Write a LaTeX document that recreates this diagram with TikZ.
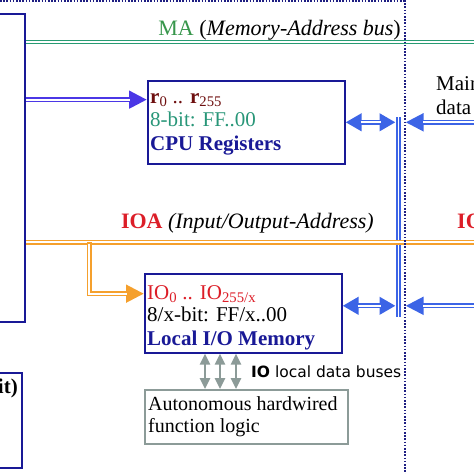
\documentclass[tikz,border=0pt]{standalone}
\usepackage{fontspec}
\setmainfont{Liberation Serif}
\newfontfamily\sansbus{DejaVu Sans}
\usetikzlibrary{arrows.meta}

\definecolor{navybox}{RGB}{25,25,150}
\definecolor{dotnavy}{RGB}{30,30,130}
\definecolor{magreen}{RGB}{40,155,115}
\definecolor{matext}{RGB}{55,150,75}
\definecolor{tealtext}{RGB}{40,150,120}
\definecolor{violetbus}{RGB}{75,55,230}
\definecolor{bluebus}{RGB}{60,100,230}
\definecolor{orangebus}{RGB}{245,160,45}
\definecolor{redtext}{RGB}{220,30,40}
\definecolor{darkred}{RGB}{110,15,15}
\definecolor{graylogic}{RGB}{140,155,152}

\begin{document}
\begin{tikzpicture}[x=1pt, y=-1pt,
    blkbox/.style={draw=navybox, line width=1.6pt, inner sep=0pt},
    logicbox/.style={draw=graylogic, line width=1.6pt, inner sep=0pt},
    txt/.style={font=\fontsize{21}{24}\selectfont, inner sep=0pt, anchor=base west},
    bus/.style 2 args={line width=5pt, postaction={draw=white, line width=1.8pt, -, shorten <=#1, shorten >=#2}},
    bigtip/.style={-{Triangle[length=18pt,width=17pt]}},
    twotip/.style={{Triangle[length=16pt,width=17pt]}-{Triangle[length=16pt,width=17pt]}},
    garrow/.style={graylogic, line width=2.6pt, {Triangle[length=11pt,width=10pt]}-{Triangle[length=11pt,width=10pt]}},
    dotline/.style={dotnavy, line width=1.6pt, dash pattern=on 1.6pt off 1.6pt}]

  \path[use as bounding box, clip] (0,0) rectangle (474,474);

  % Boxes on the left (cut by the frame)
  \node[blkbox, minimum width=50pt, minimum height=308pt] (core) at (0,168) {};
  \node[blkbox, minimum width=50pt, minimum height=95pt] (alu) at (-3,420.5) {};
  \node[txt, font=\fontsize{21}{24}\selectfont\bfseries, anchor=base east] (aluTxt) at (18,393) {it)};

  % CPU registers
  \node[blkbox, anchor=north west, minimum width=197pt, minimum height=83pt] (cpu) at (147,80) {};
  \node[txt, darkred] (regIdx) at (150,103) {{\bfseries r}\textsubscript{0} .. {\bfseries r}\textsubscript{255}};
  \node[txt, tealtext] (regBits) at (150,126) {8-bit: FF..00};
  \node[txt, navybox, font=\fontsize{21}{24}\selectfont\bfseries] (regName) at (150,150) {CPU Registers};

  % Local I/O memory
  \node[blkbox, anchor=north west, minimum width=197pt, minimum height=79pt] (io) at (144,273) {};
  \node[txt, redtext] (ioIdx) at (147,299) {IO\textsubscript{0} .. IO\textsubscript{255/x}};
  \node[txt] (ioBits) at (147,321) {8/x-bit: FF/x..00};
  \node[txt, navybox, font=\fontsize{21}{24}\selectfont\bfseries] (ioName) at (147,345) {Local I/O Memory};

  % Hardwired logic
  \node[logicbox, anchor=north west, minimum width=203pt, minimum height=54pt] (auto) at (144,389) {};
  \node[txt, font=\fontsize{20}{22}\selectfont] (autoT1) at (148,410) {Autonomous hardwired};
  \node[txt, font=\fontsize{20}{22}\selectfont] (autoT2) at (148,432) {function logic};

  % Labels
  \node[txt, font=\fontsize{22}{24}\selectfont, anchor=base east] (maLbl) at (401,35) {\textcolor{matext}{MA} (\textit{Memory-Address bus})};
  \node[txt, font=\fontsize{22}{24}\selectfont, anchor=base east] (ioaLbl) at (374,228) {\textcolor{redtext}{\bfseries IOA} \textit{(Input/Output-Address)}};
  \node[txt, redtext, font=\fontsize{22}{24}\selectfont\bfseries] (ioaLbl2) at (457,228) {IO};
  \node[txt, anchor=north west, align=left] (mainLbl) at (436,76) {Main\\data};
  \node[txt, font=\sansbus\fontsize{15.5}{18}\selectfont] (locLbl) at (251,377) {\textbf{IO} local data buses};

  % Bus coordinates
  \coordinate (maTap) at (26,42);
  \coordinate (maEnd) at (480,42);
  \coordinate (ioaTap) at (89,242);
  \coordinate (ioaEnd) at (480,242);
  \coordinate (dbTop) at (398.5,117);
  \coordinate (dbBot) at (398.5,317);
  \coordinate (dbL) at (395.5,200);
  \coordinate (dbR) at (405.5,200);
  \coordinate (mdEnd) at (480,200);
  \coordinate (ioPort) at ([yshift=7.5pt]io.east);

  % Data bus
  \draw[bluebus, bus={0pt}{0pt}] (dbTop) -- (dbBot);
  \draw[bluebus, bus={15pt}{15pt}, twotip] (cpu.east) -- (cpu.east -| dbL);
  \draw[bluebus, bus={0pt}{17pt}, bigtip] (cpu.east -| mdEnd) -- (cpu.east -| dbR);
  \draw[bluebus, bus={15pt}{15pt}, twotip] (ioPort) -- (ioPort -| dbL);
  \draw[bluebus, bus={0pt}{17pt}, bigtip] (ioPort -| mdEnd) -- (ioPort -| dbR);

  % Address buses
  \draw[magreen, bus={0pt}{0pt}, line width=4.6pt] (maTap) -- (maEnd);
  \draw[violetbus, bus={0pt}{17pt}, bigtip] (core.east |- regIdx.west) -- (cpu.west |- regIdx.west);
  \draw[orangebus, bus={0pt}{0pt}] (core.east |- ioaTap) -- (ioaEnd);
  \draw[orangebus, bus={2.4pt}{17pt}, bigtip] (ioaTap) |- (io.west |- ioIdx.west);

  % IO local data buses
  \foreach \d in {61,76,92} {
    \draw[garrow] ([xshift=\d pt]io.south west) -- ([xshift=\d pt]auto.north west);
  }

  % Frame
  \draw[dotline] (0,1.2) -- (405,1.2);
  \draw[dotline] (405,0) -- (405,474);
\end{tikzpicture}
\end{document}
